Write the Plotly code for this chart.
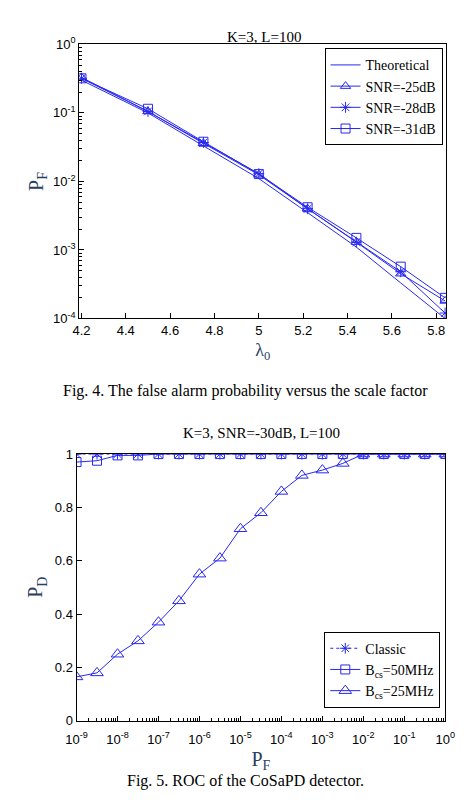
import plotly.graph_objects as go

# Fig. 4 data: false alarm probability vs scale factor
lam = [4.2, 4.5, 4.75, 5.0, 5.22, 5.44, 5.64, 5.84]
pf_theory = [0.30, 0.10, 0.033, 0.011, 0.0035, 0.0011, 0.00033, 0.0001]
pf_25 = [0.33, 0.105, 0.036, 0.0125, 0.0040, 0.0013, 0.00045, 0.00018]
pf_28 = [0.32, 0.105, 0.037, 0.0130, 0.0040, 0.0013, 0.00048, 0.00012]
pf_31 = [0.32, 0.115, 0.038, 0.0128, 0.0042, 0.0015, 0.00057, 0.00020]

# Fig. 5 data: ROC
roc_pf = [1e-9, 3.16e-9, 1e-8, 3.16e-8, 1e-7, 3.16e-7, 1e-6, 3.16e-6, 1e-5, 3.16e-5,
          1e-4, 3.16e-4, 1e-3, 3.16e-3, 1e-2, 3.16e-2, 1e-1, 3.16e-1, 1.0]
pd_classic = [1.0] * 19
pd_50 = [0.97, 0.975, 0.995, 0.995, 1, 1, 1, 1, 1, 1, 1, 1, 1, 1, 1, 1, 1, 1, 1]
pd_25 = [0.165, 0.18, 0.25, 0.30, 0.37, 0.45, 0.55, 0.61, 0.72, 0.78,
         0.86, 0.92, 0.94, 0.965, 1, 1, 1, 1, 1]

BLUE = 'rgb(40,40,240)'
SERIF = 'Liberation Serif'
SANS = 'Liberation Sans'

fig = go.Figure()

def line(x, y, name, sym, xa, ya, leg, dash='solid', size=9):
  return go.Scatter(x=x, y=y, name=name, xaxis=xa, yaxis=ya, legend=leg,
                    mode='lines' if sym is None else 'lines+markers',
                    line=dict(color=BLUE, width=1, dash=dash),
                    marker=dict(symbol=sym, size=size, color=BLUE,
                                line=dict(color=BLUE, width=1)))

fig.add_trace(line(lam, pf_theory, 'Theoretical', None, 'x', 'y', 'legend'))
fig.add_trace(line(lam, pf_25, 'SNR=-25dB', 'triangle-up-open', 'x', 'y', 'legend'))
fig.add_trace(line(lam, pf_28, 'SNR=-28dB', 'asterisk-open', 'x', 'y', 'legend'))
fig.add_trace(line(lam, pf_31, 'SNR=-31dB', 'square-open', 'x', 'y', 'legend'))

fig.add_trace(line(roc_pf, pd_classic, 'Classic', 'asterisk-open', 'x2', 'y2', 'legend2', dash='dot'))
fig.add_trace(line(roc_pf, pd_50, 'B<sub>cs</sub>=50MHz', 'square-open', 'x2', 'y2', 'legend2'))
fig.add_trace(line(roc_pf, pd_25, 'B<sub>cs</sub>=25MHz', 'triangle-up-open', 'x2', 'y2', 'legend2', size=11))

ax = dict(showline=True, linecolor='black', mirror=True, ticks='inside',
          tickcolor='black', showgrid=False, zeroline=False,
          tickfont=dict(family=SANS, size=13, color='black'))
minor = dict(ticks='inside', tickcolor='black', ticklen=3, showgrid=False, dtick='D1')

dec_top = [1e-4, 1e-3, 1e-2, 1e-1, 1]
dec_bot = [10.0 ** k for k in range(-9, 1)]

fig.update_layout(
  width=474, height=800, paper_bgcolor='white', plot_bgcolor='white',
  margin=dict(l=0, r=0, t=0, b=0),
  xaxis=dict(ax, domain=[0.133, 0.943], anchor='y', range=[4.19, 5.845],
             tickvals=[4.2, 4.4, 4.6, 4.8, 5, 5.2, 5.4, 5.6, 5.8],
             title=dict(text='λ<sub>0</sub>', font=dict(family=SERIF, size=18), standoff=6)),
  yaxis=dict(ax, domain=[0.615, 0.965], anchor='x', type='log', range=[-4, 0],
             tickvals=dec_top, ticktext=['10<sup>%d</sup>' % k for k in range(-4, 1)],
             minor=minor,
             title=dict(text='P<sub>F</sub>', font=dict(family=SERIF, size=20), standoff=4)),
  xaxis2=dict(ax, domain=[0.127, 0.941], anchor='y2', type='log', range=[-9, 0],
              tickvals=dec_bot, ticktext=['10<sup>%d</sup>' % k for k in range(-9, 1)],
              minor=minor, ticklabelstandoff=6,
              title=dict(text='P<sub>F</sub>', font=dict(family=SERIF, size=20), standoff=6)),
  yaxis2=dict(ax, domain=[0.101, 0.4425], anchor='x2', range=[0, 1.002],
              tickvals=[0, 0.2, 0.4, 0.6, 0.8, 1],
              title=dict(text='P<sub>D</sub>', font=dict(family=SERIF, size=20), standoff=6)),
  legend=dict(x=0.935, xanchor='right', y=0.96, yanchor='top', bordercolor='black',
              borderwidth=1, bgcolor='white', font=dict(family=SERIF, size=14, color='black')),
  legend2=dict(x=0.93, xanchor='right', y=0.215, yanchor='top', bordercolor='black',
               borderwidth=1, bgcolor='white', font=dict(family=SERIF, size=14, color='black')),
  annotations=[
    dict(text='K=3, L=100', x=0.54, y=1 - 10 / 800, xref='paper', yref='paper',
         showarrow=False, font=dict(family=SERIF, size=15, color='black')),
    dict(text='Fig. 4. The false alarm probability versus the scale factor', x=0.5,
         y=1 - 382 / 800, xref='paper', yref='paper', showarrow=False,
         font=dict(family=SERIF, size=16, color='black')),
    dict(text='K=3, SNR=-30dB, L=100', x=0.535, y=1 - 425 / 800, xref='paper', yref='paper',
         showarrow=False, font=dict(family=SERIF, size=15, color='black')),
    dict(text='Fig. 5. ROC of the CoSaPD detector.', x=0.5, y=1 - 792 / 800,
         xref='paper', yref='paper', showarrow=False,
         font=dict(family=SERIF, size=16, color='black')),
  ],
)

fig.write_html("out.html")
